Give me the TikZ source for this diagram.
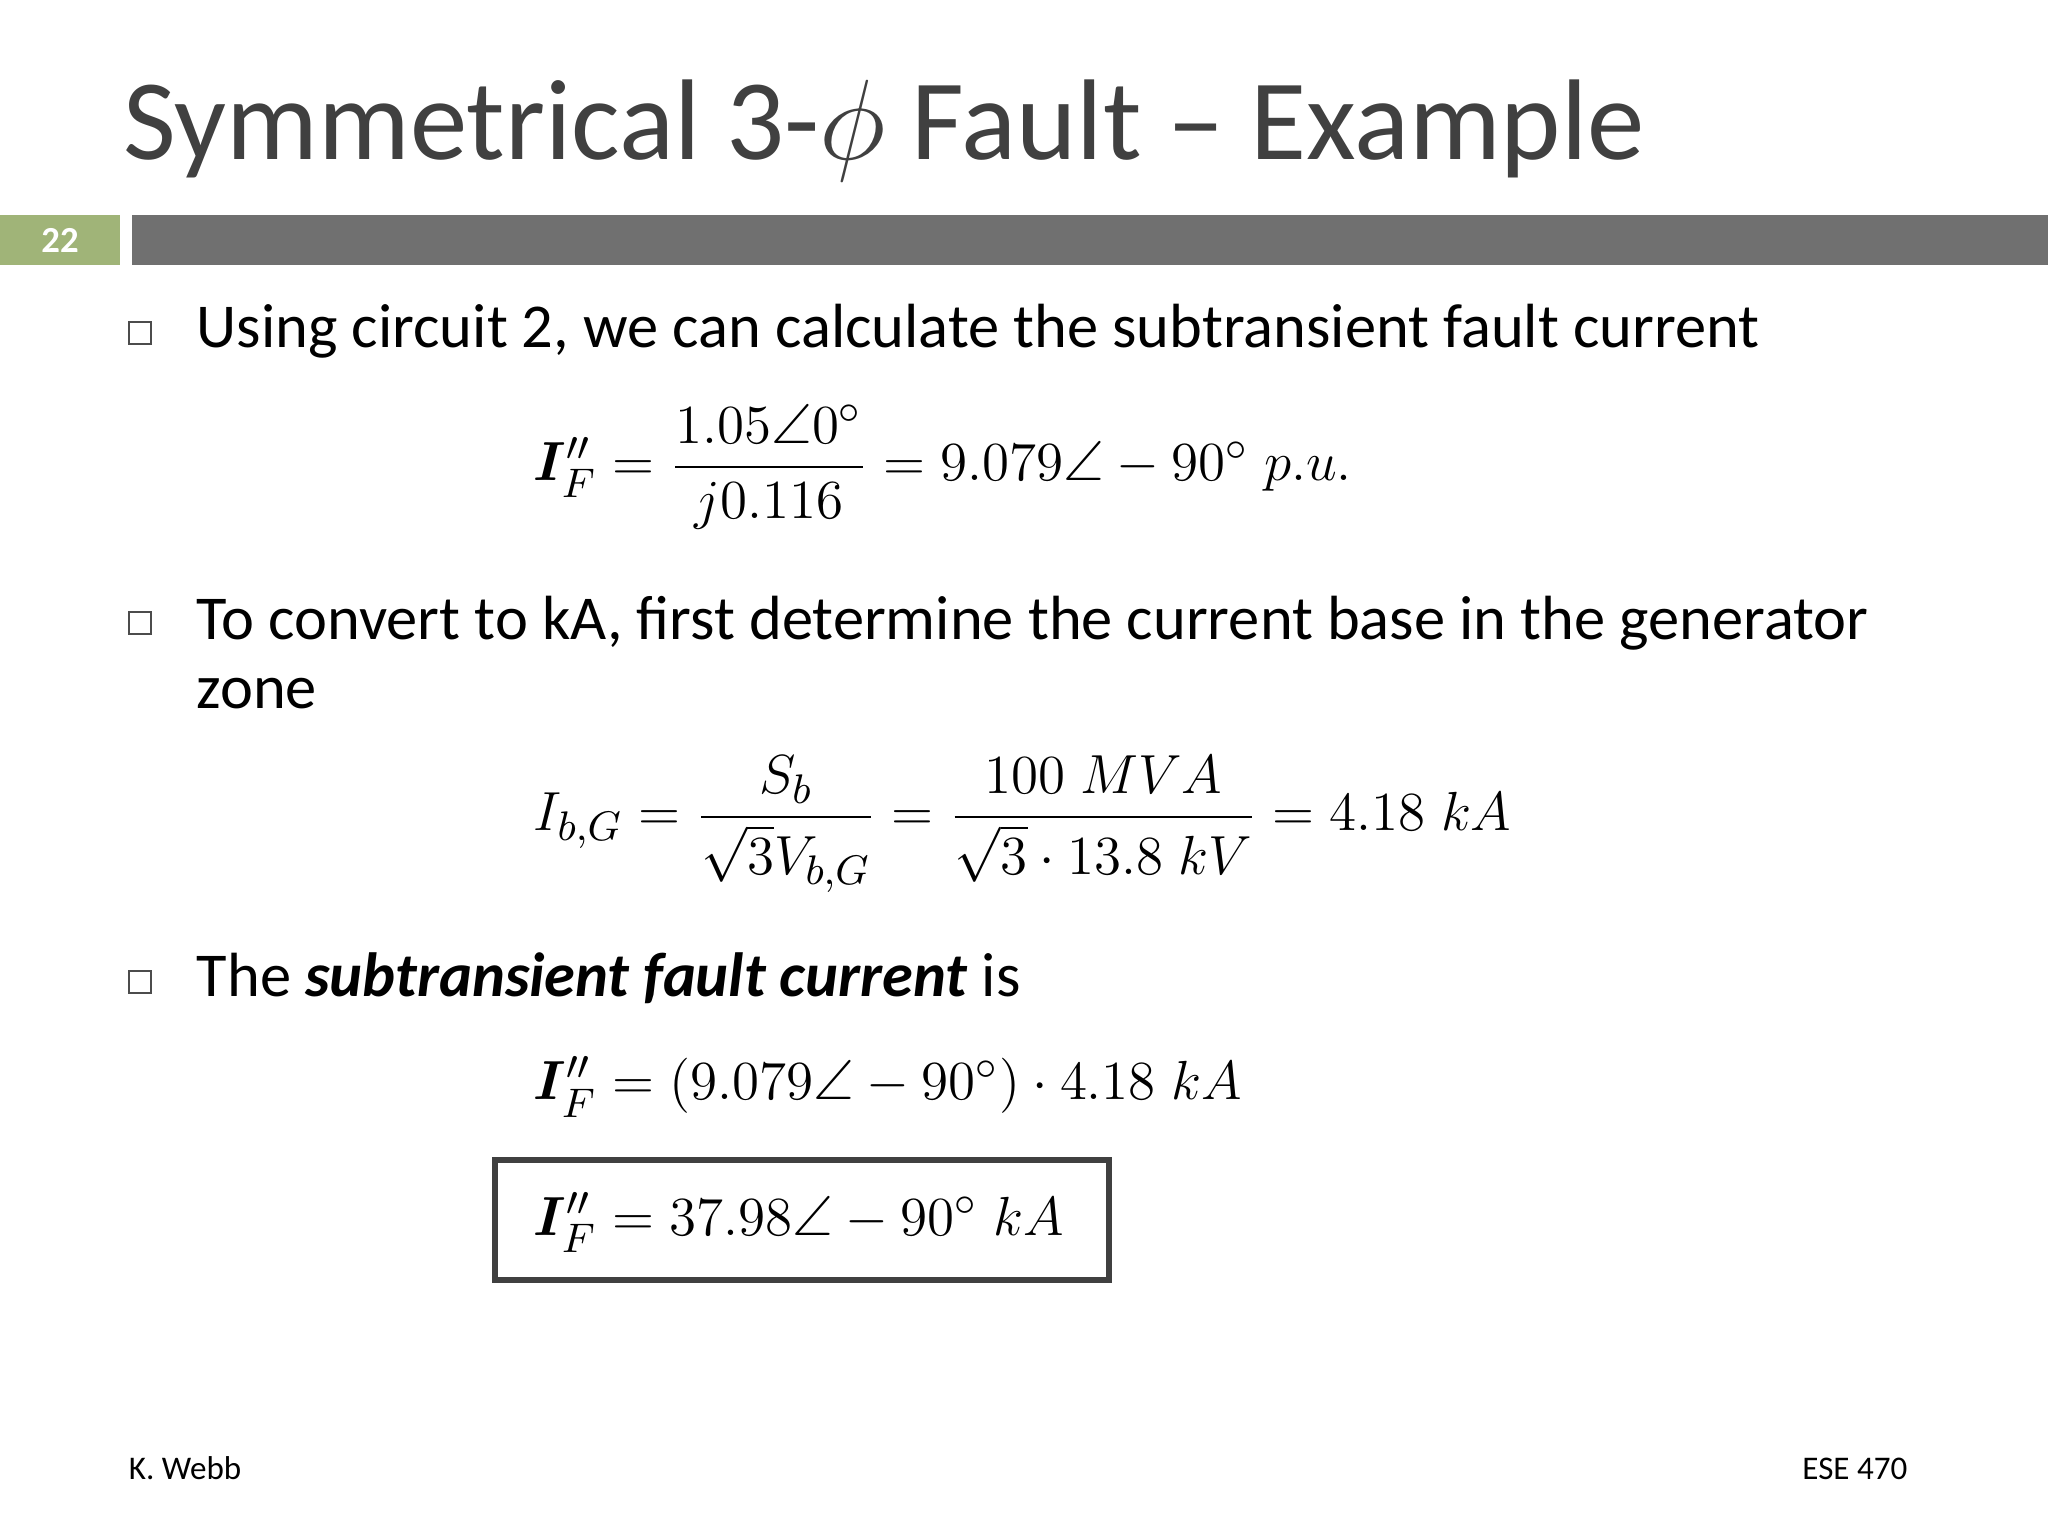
\documentclass[tikz,border=0pt]{standalone}
\usepackage{amsmath,amssymb,bm}
\usepackage{fontspec}
\setmainfont{Carlito}
\definecolor{titlegray}{RGB}{64,64,64}
\definecolor{bargray}{RGB}{112,112,112}
\definecolor{pagegreen}{RGB}{160,180,120}
\tikzset{
  bodytext/.style={anchor=base west, inner sep=0pt, font=\fontsize{13.6}{17}\selectfont},
  eqtext/.style={anchor=base west, inner sep=0pt, font=\fontsize{12.3}{15}\selectfont},
  bulletbox/.style={draw=black!70, line width=0.5pt, minimum size=0.17cm, inner sep=0pt}
}
\begin{document}
\begin{tikzpicture}[x=1cm,y=1cm]
  \useasboundingbox (0,0) rectangle (15.68,-11.76);
  % title and bars
  \node[anchor=base west, inner sep=0pt, text=titlegray, font=\fontsize{25}{30}\selectfont] (title) at (0.94,-1.22) {Symmetrical 3-$\phi$ Fault -- Example};
  \fill[pagegreen] (0,-1.65) rectangle (0.92,-2.03);
  \node[text=white, font=\bfseries\fontsize{8}{9}\selectfont] (pagenum) at (0.46,-1.84) {22};
  \fill[bargray] (1.01,-1.65) rectangle (15.68,-2.03);

  % bullets
  \node[bulletbox] (b1) at (1.07,-2.55) {};
  \node[bodytext] (t1) at (1.5,-2.66) {Using circuit 2, we can calculate the subtransient fault current};
  \node[eqtext] (e1) at (4.08,-3.68) {$\bm{I}_F'' = \dfrac{1.05\angle 0^\circ}{j0.116} = 9.079\angle-90^\circ\; p.u.$};

  \node[bulletbox] (b2) at (1.07,-4.77) {};
  \node[bodytext, align=left, anchor=north west] (t2) at (1.5,-4.56) {To convert to kA, first determine the current base in the generator\\[-2pt]zone};
  \node[eqtext] (e2) at (4.08,-6.36) {$I_{b,G} = \dfrac{S_b}{\sqrt{3}V_{b,G}} = \dfrac{100\;MVA}{\sqrt{3}\cdot 13.8\;kV} = 4.18\;kA$};

  \node[bulletbox] (b3) at (1.07,-7.52) {};
  \node[bodytext] (t3) at (1.5,-7.63) {The \textbf{\textit{subtransient fault current}} is};
  \node[eqtext] (e3) at (4.08,-8.42) {$\bm{I}_F'' = (9.079\angle-90^\circ)\cdot 4.18\;kA$};
  \node[eqtext] (e4) at (4.08,-9.46) {$\bm{I}_F'' = 37.98\angle-90^\circ\; kA$};
  \draw[black!75, line width=1.2pt] (3.79,-8.88) rectangle (8.49,-9.80);

  % footer
  \node[anchor=base west, inner sep=0pt, font=\fontsize{7.2}{9}\selectfont] (author) at (0.98,-11.33) {K. Webb};
  \node[anchor=base east, inner sep=0pt, font=\fontsize{7.2}{9}\selectfont] (course) at (14.61,-11.33) {ESE 470};
\end{tikzpicture}
\end{document}
